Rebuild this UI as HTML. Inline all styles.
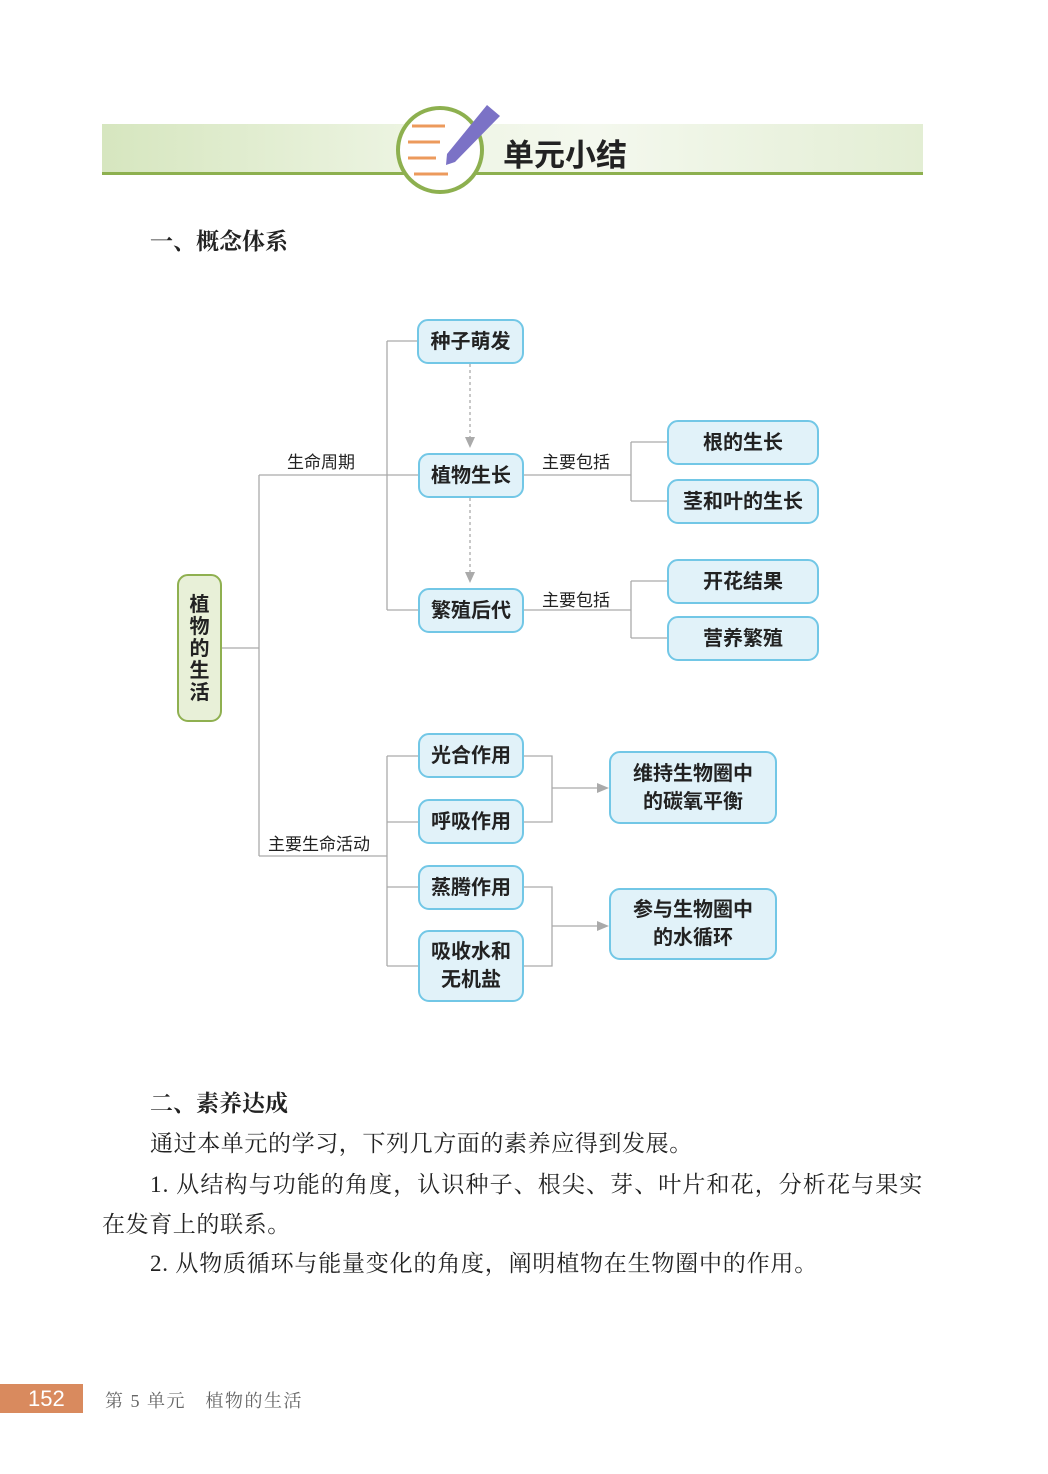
<!DOCTYPE html>
<html><head><meta charset="utf-8"><style>
body{margin:0;width:1048px;height:1474px;position:relative;background:#fff;font-family:"Liberation Sans","Noto Sans CJK SC",sans-serif;overflow:hidden}
.n{position:absolute;box-sizing:border-box;background:#e1f2f9;border:2px solid #72c7e6;border-radius:11px;display:flex;align-items:center;justify-content:center;text-align:center;font-size:20px;font-weight:bold;color:#222;line-height:28px}
.l{position:absolute;font-size:17px;color:#222;white-space:nowrap}
.s{position:absolute;font-family:"Liberation Serif","Noto Serif CJK SC",serif;font-size:23px;color:#222;white-space:nowrap}
</style></head><body>
<div style="position:absolute;left:102px;top:124px;width:821px;height:49px;background:linear-gradient(90deg,#d6e6bf,#eef5e4 40%,#f4f8ee 60%,#e3eed4)"></div>
<div style="position:absolute;left:102px;top:172px;width:821px;height:3px;background:#8db04f"></div>
<svg style="position:absolute;left:0;top:0" width="1048" height="1474">
<circle cx="440" cy="150" r="42" fill="#fff" stroke="#8db04f" stroke-width="4"/>
<g stroke="#ec9a5c" stroke-width="3"><line x1="412" y1="126" x2="445" y2="126"/><line x1="408" y1="142" x2="440" y2="142"/><line x1="408" y1="158" x2="436" y2="158"/><line x1="414" y1="174" x2="448" y2="174"/></g>
<polygon points="487,105 500,116 455,162 446,165 447,154" fill="#7b72c6"/>
<g stroke="#aaa" stroke-width="1.3" fill="none">
<path d="M221 648H259M259 475V856M259 475H418M259 856H387M387 341V610M387 341H417M387 610H418"/>
<path d="M524 475H631M631 442V501M631 442H667M631 501H667"/>
<path d="M524 610H631M631 581V638M631 581H667M631 638H667"/>
<path d="M387 756V966M387 756H418M387 822H418M387 887H418M387 966H418"/>
<path d="M524 756H552V822H524M552 788H598"/>
<path d="M524 887H552V966H524M552 926H598"/>
<path d="M470 364V437M470 498V572" stroke-dasharray="3,3"/>
</g>
<g fill="#aaa"><polygon points="465,437 475,437 470,448"/><polygon points="465,572 475,572 470,583"/><polygon points="597,783 597,793 609,788"/><polygon points="597,921 597,931 609,926"/></g>
</svg>
<div style="position:absolute;left:503px;top:130px;font-size:31px;font-weight:bold;color:#222">单元小结</div>
<div class="s" style="left:150px;top:223px;font-weight:bold;font-size:23px">一、概念体系</div>
<div class="n" style="left:177px;top:574px;width:45px;height:148px;background:#e8f0d8;border-color:#8fb050;font-size:20px;line-height:22px;padding-top:2px">植<br>物<br>的<br>生<br>活</div>
<div class="n" style="left:417px;top:319px;width:107px;height:45px">种子萌发</div>
<div class="n" style="left:418px;top:453px;width:106px;height:45px">植物生长</div>
<div class="n" style="left:418px;top:588px;width:106px;height:45px">繁殖后代</div>
<div class="n" style="left:667px;top:420px;width:152px;height:45px">根的生长</div>
<div class="n" style="left:667px;top:479px;width:152px;height:45px">茎和叶的生长</div>
<div class="n" style="left:667px;top:559px;width:152px;height:45px">开花结果</div>
<div class="n" style="left:667px;top:616px;width:152px;height:45px">营养繁殖</div>
<div class="n" style="left:418px;top:733px;width:106px;height:45px">光合作用</div>
<div class="n" style="left:418px;top:799px;width:106px;height:45px">呼吸作用</div>
<div class="n" style="left:418px;top:865px;width:106px;height:45px">蒸腾作用</div>
<div class="n" style="left:418px;top:930px;width:106px;height:72px">吸收水和<br>无机盐</div>
<div class="n" style="left:609px;top:751px;width:168px;height:73px">维持生物圈中<br>的碳氧平衡</div>
<div class="n" style="left:609px;top:888px;width:168px;height:72px">参与生物圈中<br>的水循环</div>
<div class="l" style="left:287px;top:448px">生命周期</div>
<div class="l" style="left:268px;top:830px">主要生命活动</div>
<div class="l" style="left:542px;top:448px">主要包括</div>
<div class="l" style="left:542px;top:586px">主要包括</div>
<div class="s" style="left:150px;top:1085px;font-weight:bold;font-size:23px">二、素养达成</div>
<div class="s" style="left:150px;top:1125px;letter-spacing:0.6px">通过本单元的学习，下列几方面的素养应得到发展。</div>
<div class="s" style="left:150px;top:1166px;letter-spacing:1.1px">1. 从结构与功能的角度，认识种子、根尖、芽、叶片和花，分析花与果实</div>
<div class="s" style="left:102px;top:1206px;letter-spacing:0.6px">在发育上的联系。</div>
<div class="s" style="left:150px;top:1245px;letter-spacing:0.8px">2. 从物质循环与能量变化的角度，阐明植物在生物圈中的作用。</div>
<div style="position:absolute;left:0;top:1384px;width:83px;height:29px;background:#d98a5e;color:#fff;font-size:22px;line-height:29px"><span style="position:absolute;left:28px">152</span></div>
<div class="s" style="left:105px;top:1387px;font-size:18px;color:#666;letter-spacing:1.5px">第 5 单元　植物的生活</div>
</body></html>
